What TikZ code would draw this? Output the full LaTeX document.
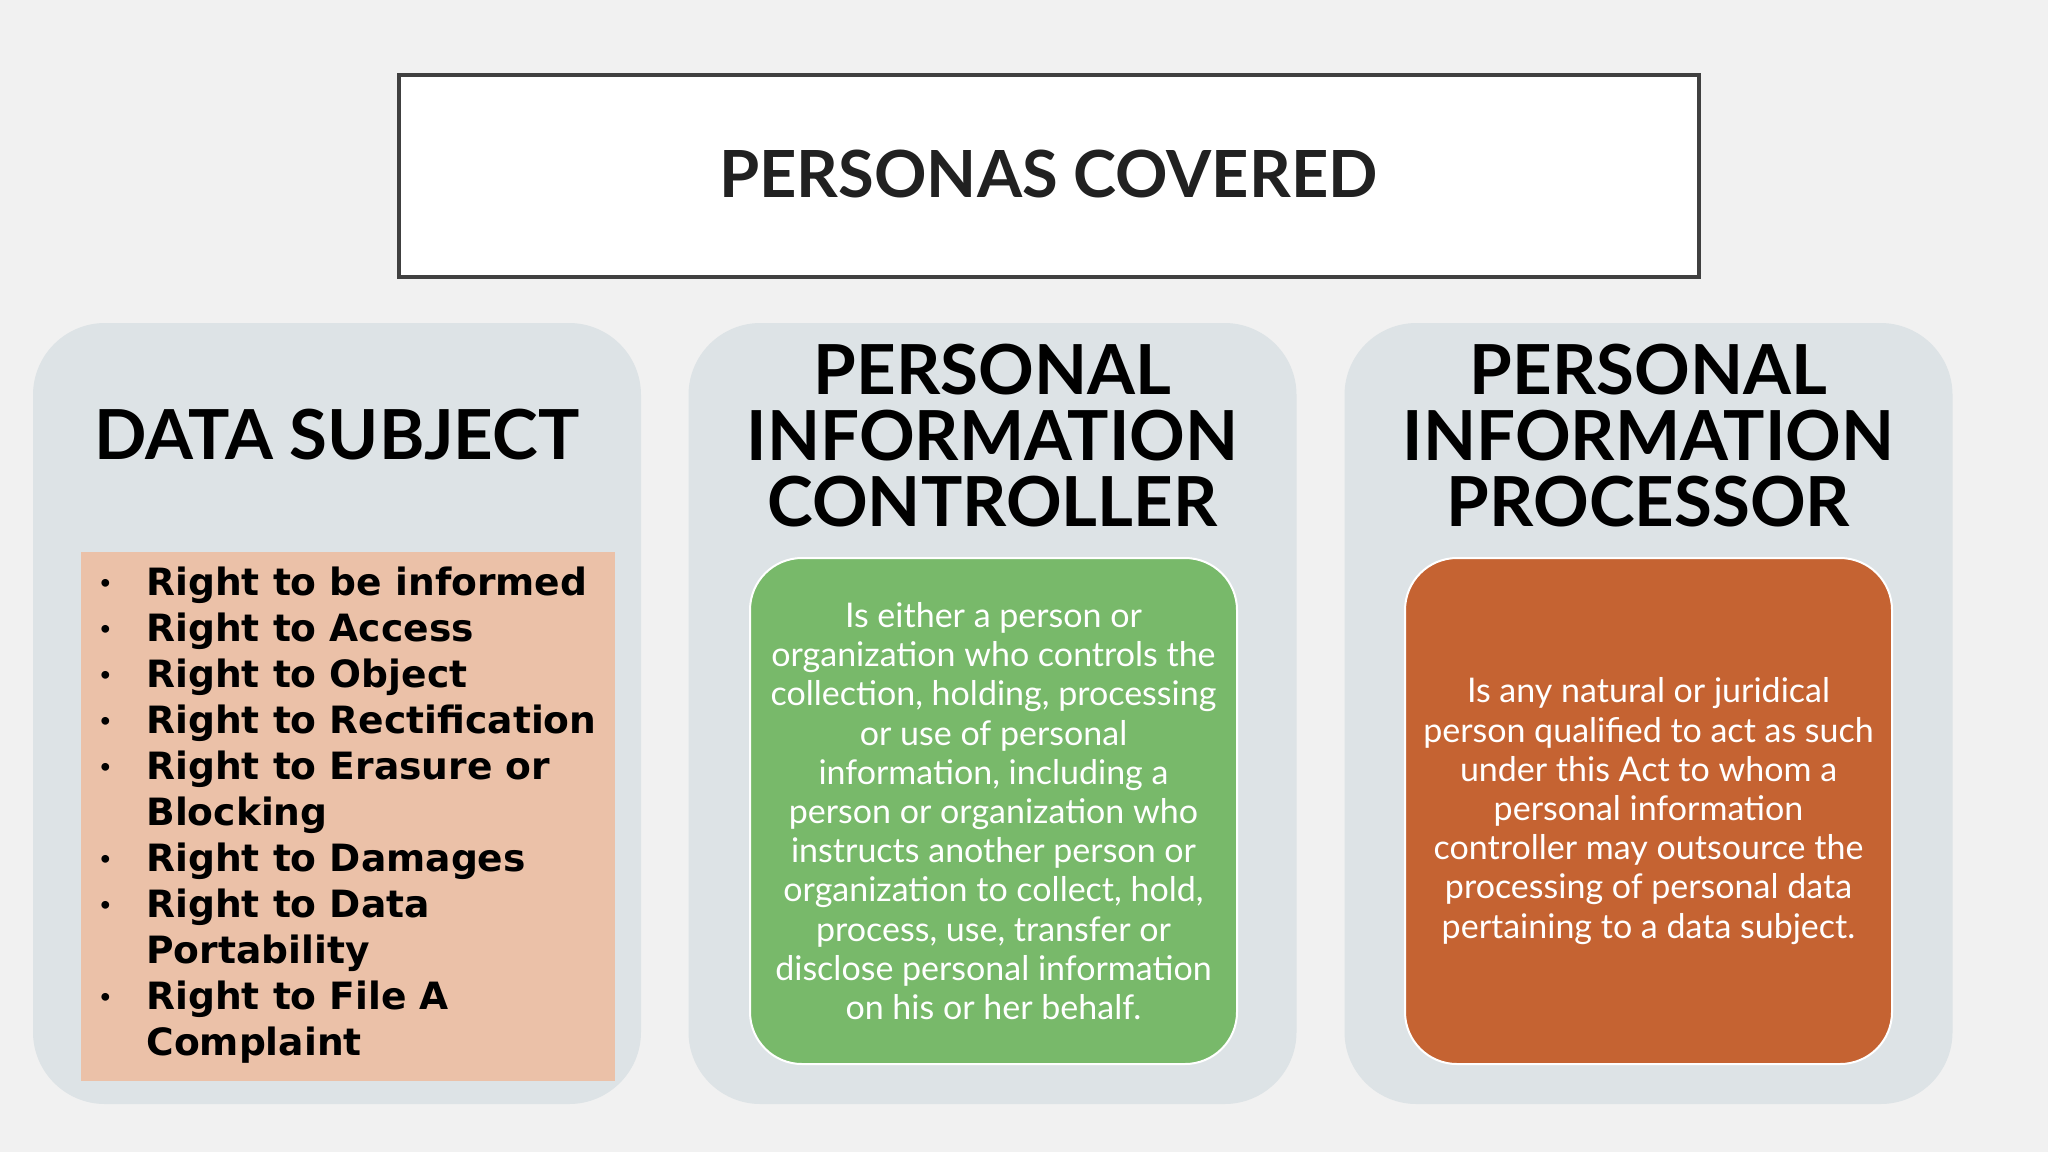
\documentclass[tikz,border=0pt]{standalone}
\usepackage{fontspec}
\setmainfont{Lato}
\newfontfamily\heavyfont{DejaVu Sans}
\usetikzlibrary{positioning}
\definecolor{bgcol}{HTML}{F1F1F1}
\definecolor{panelcol}{HTML}{DDE3E6}
\definecolor{salmon}{HTML}{EBC1A8}
\definecolor{greenbox}{HTML}{78B96A}
\definecolor{orangebox}{HTML}{C56332}
\definecolor{titleborder}{HTML}{404040}
\newcommand{\smallbul}{\raisebox{2pt}{\fontsize{11}{11}\selectfont\textbullet}}
\tikzset{
  panel/.style={fill=panelcol, draw=none, rounded corners=36pt},
  innerbox/.style={draw=white, line width=1pt, rounded corners=26pt},
  heading/.style={font=\fontsize{34.5}{33}\selectfont\bfseries, text=black, align=center, inner sep=0pt},
  bodytext/.style={font=\fontsize{17}{19.6}\selectfont, text=white, align=center, inner sep=0pt},
}
\begin{document}
\begin{tikzpicture}[x=0.5pt, y=-0.5pt]
\useasboundingbox (0,0) rectangle (2048,1152);
\fill[bgcol] (0,0) rectangle (2048,1152);
% title
\node[draw=titleborder, line width=2pt, fill=white, minimum width=650pt, minimum height=101pt, inner sep=0pt,
  font=\fontsize{32.5}{32}\selectfont\bfseries, text=black!87] (title) at (1048.5,175.5) {\raisebox{1.5pt}{PERSONAS COVERED}};
% panels
\node[panel, minimum width=304pt, minimum height=390.5pt] (p1) at (337,713.5) {};
\node[panel, minimum width=304pt, minimum height=390.5pt] (p2) at (992.5,713.5) {};
\node[panel, minimum width=304pt, minimum height=390.5pt] (p3) at (1648.5,713.5) {};
% headings
\node[heading] (h1) at (337,435) {DATA SUBJECT};
\node[heading] (h2) at (992.5,436) {PERSONAL\\INFORMATION\\CONTROLLER};
\node[heading] (h3) at (1648.5,436) {PERSONAL\\INFORMATION\\PROCESSOR};
% rights box
\node[fill=salmon, minimum width=267pt, minimum height=264.5pt, inner sep=0pt] (rbox) at (348,816.5) {};
\node[anchor=north west, inner sep=0pt, font=\heavyfont\bfseries\fontsize{18.8}{23}\selectfont, text=black] (rights) at (98,563)
{\begin{tabular}{@{}p{24pt}@{}l@{}}
\smallbul & Right to be informed\\
\smallbul & Right to Access\\
\smallbul & Right to Object\\
\smallbul & Right to Rectification\\
\smallbul & Right to Erasure or\\
 & Blocking\\
\smallbul & Right to Damages\\
\smallbul & Right to Data\\
 & Portability\\
\smallbul & Right to File A\\
 & Complaint
\end{tabular}};
% green box
\node[innerbox, fill=greenbox, minimum width=243.5pt, minimum height=253pt] (gbox) at (993.5,811) {};
\node[bodytext] (gtext) at (gbox.center) {Is either a person or\\organization who controls the\\collection, holding, processing\\or use of personal\\information, including a\\person or organization who\\instructs another person or\\organization to collect, hold,\\process, use, transfer or\\disclose personal information\\on his or her behalf.};
% orange box
\node[innerbox, fill=orangebox, minimum width=243.5pt, minimum height=253pt] (obox) at (1648.5,811) {};
\node[bodytext] (otext) at (obox.center) {Is any natural or juridical\\person qualified to act as such\\under this Act to whom a\\personal information\\controller may outsource the\\processing of personal data\\pertaining to a data subject.};
\end{tikzpicture}
\end{document}
